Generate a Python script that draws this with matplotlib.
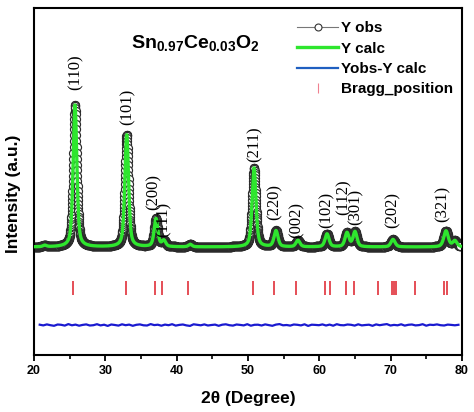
import numpy as np
import matplotlib.pyplot as plt
from matplotlib.lines import Line2D

plt.rcParams['font.family'] = ['Liberation Sans', 'DejaVu Sans']
plt.rcParams['mathtext.fontset'] = 'custom'
plt.rcParams['mathtext.bf'] = 'Liberation Sans:bold'
plt.rcParams['mathtext.rm'] = 'Liberation Sans'

# indexed reflections (position in 2theta, height above background, fwhm)
hkl = ['(110)', '(101)', '(200)', '(111)', '(211)', '(220)', '(002)',
       '(102)', '(112)', '(301)', '(202)', '(321)']
peak_pos = [25.75, 33.0, 37.1, 38.2, 50.85, 53.93, 57.0, 61.08, 63.88, 65.0, 70.33, 77.76]
peak_height = [1420, 1120, 280, 60, 790, 160, 65, 130, 140, 150, 75, 160]
peak_fwhm = [0.62, 0.62, 0.62, 0.62, 0.64, 0.66, 0.66, 0.66, 0.66, 0.66, 0.7, 0.75]
# small unlabelled bumps
extra_pos = [21.5, 41.9, 79.0]
extra_height = [15, 25, 60]
extra_fwhm = [0.6, 0.6, 0.7]
background = 1080

# where the hkl labels sit (bottom of rotated text)
label_x = [25.89, 33.18, 36.82, 38.23, 50.98, 53.79, 56.87, 61.08, 63.35, 65.1, 70.33, 77.34]
label_y = [2650, 2300, 1450, 1180, 1930, 1350, 1170, 1270, 1400, 1300, 1270, 1330]

bragg_pos = [25.51, 32.90, 36.96, 37.94, 41.63, 50.74, 53.69, 56.77, 60.80, 61.50,
             63.70, 64.90, 68.18, 70.15, 70.47, 70.75, 73.41, 77.52, 77.86]
bragg_level = 675

diff_offset = 300
diff_resid = [3, -4, 6, -2, -8, 5, 2, -6, 9, -3, 4, -7, 1, 6, -5, -2, 8, -4, 3, -9,
              5, 0, -6, 7, -2, 4, -8, 2, 6, -3, -5, 9, -1, 3, -7, 4, -2, 8, -6, 1,
              5, -4, -9, 7, 2, -3, 6, -5, 0, 4, -8, 3, 7, -2, -6, 5, 1, -4, 8, -7,
              2, 3, -5, 6, -1, -8, 4, 9, -3, 0, -6, 5, 2, -4, 7, -9, 3, 1, -2, 6,
              -5, 4, -7, 8, -1, -3, 5, 2, -6, 7, -4, 0, 3, -8, 6, -2, 4, 9, -5, 1,
              -3, 7, -6, 2, 5, -4, -1, 8, -7, 3, 0, 6, -2, -5, 4, 1, -3, 2]


def pseudo_voigt(x, x0, h, w, eta=0.5):
    d = (x - x0) ** 2 / w ** 2
    return h * (eta / (1 + 4 * d) + (1 - eta) * np.exp(-4 * np.log(2) * d))


tt = np.arange(20.0, 79.8, 0.02)
ycalc = np.full_like(tt, background, dtype=float)
for p, h, w in zip(peak_pos + extra_pos, peak_height + extra_height, peak_fwhm + extra_fwhm):
    ycalc += pseudo_voigt(tt, p, h, w)
yobs = ycalc.copy()

diff_x = np.linspace(20.8, 79.5, len(diff_resid))
diff_y = diff_offset + np.array(diff_resid)

fig = plt.figure(figsize=(4.74, 4.12), dpi=100)
ax = fig.add_axes([34 / 474, 1 - 355 / 412, 428 / 474, 347 / 412])

ax.plot(tt, yobs, color='#555555', lw=0.6, marker='o', ms=5.8, mfc='white',
        mec='#2a2a2a', mew=0.85, zorder=2)
ax.plot(tt, ycalc, color='#2ee62e', lw=2.4, zorder=3)
ax.plot(diff_x, diff_y, color='#1a1ad0', lw=1.6, zorder=3)
ax.plot(bragg_pos, [bragg_level] * len(bragg_pos), ls='none', marker='|', ms=9.5,
        mew=1.2, color='#e0303a')

for lab, lx, ly in zip(hkl, label_x, label_y):
    ax.text(lx, ly, lab, rotation=90, ha='center', va='bottom',
            family='Liberation Serif', fontsize=12)

ax.text(0.378, 0.9, r'$\mathbf{Sn_{0.97}Ce_{0.03}O_2}$', transform=ax.transAxes,
        ha='center', va='center', fontsize=14)

handles = [
    Line2D([], [], color='#777777', lw=0.8, marker='o', ms=5, mfc='white', mec='#333333', mew=0.8),
    Line2D([], [], color='#2ee62e', lw=2.4),
    Line2D([], [], color='#1f5fc0', lw=1.6),
    Line2D([], [], ls='none', marker='|', ms=7, mew=0.8, color='#f08090'),
]
ax.legend(handles, ['Y obs', 'Y calc', 'Yobs-Y calc', 'Bragg_position'],
          loc='upper left', bbox_to_anchor=(0.6145, 0.962), frameon=False,
          borderpad=0, borderaxespad=0, handlelength=2.7, handletextpad=0.2,
          labelspacing=0.42, prop={'weight': 'bold', 'size': 11})

ax.set_xlim(20, 80)
ax.set_ylim(0, 3470)
ax.set_yticks([])
ax.set_xticks(range(20, 81, 10))
ax.set_xticks(range(25, 80, 10), minor=True)
ax.tick_params(axis='x', which='major', direction='out', length=4, width=1.3,
               labelsize=9)
ax.tick_params(axis='x', which='minor', direction='out', length=3, width=1.2)
for lbl in ax.get_xticklabels():
    lbl.set_fontweight('bold')
for sp in ax.spines.values():
    sp.set_linewidth(1.5)

ax.set_xlabel('2θ (Degree)', fontsize=12.5, fontweight='bold')
ax.xaxis.set_label_coords(0.5, -0.105)
ax.set_ylabel('Intensity (a.u.)', fontsize=12.5, fontweight='bold')
ax.yaxis.set_label_coords(-0.03, 0.464)

fig.savefig('out.png', dpi=100)
